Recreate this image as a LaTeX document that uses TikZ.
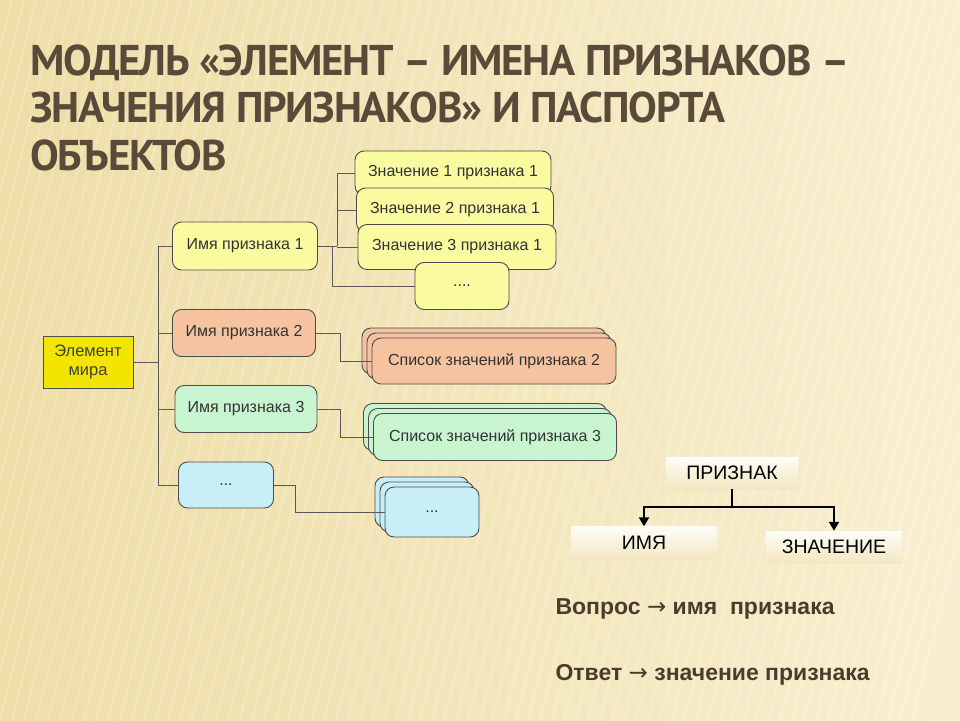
\documentclass[tikz,border=0pt]{standalone}
\usepackage{fontspec}
\setmainfont{Liberation Sans}
\newfontfamily\ttl{PT Sans}
\newfontfamily\djv{DejaVu Sans}
\usetikzlibrary{arrows.meta}
\definecolor{bgA}{HTML}{EEDDA6}
\definecolor{bgB}{HTML}{F7EFCF}
\definecolor{ttlc}{HTML}{5A4A3A}
\definecolor{yel}{HTML}{FAFAA0}
\definecolor{sal}{HTML}{F5C3A0}
\definecolor{grn}{HTML}{C8F5D0}
\definecolor{cyn}{HTML}{C8EEF8}
\definecolor{elem}{HTML}{F2E600}
\definecolor{txt}{HTML}{4A3B2B}
\tikzset{
 rbox/.style={draw=black!70,line width=0.9pt,rounded corners=9pt,inner sep=0pt,font=\fontsize{16}{18}\selectfont,text=black!80},
 ln/.style={draw=black!65,line width=1pt},
 pbox/.style={inner sep=0pt,font=\fontsize{19.5}{22}\selectfont,top color=white!92!bgA,bottom color=bgA!70!white},
 ar/.style={line width=2.4pt,-{Triangle[length=9pt,width=10pt]}},
 qa/.style={anchor=base west,font=\fontsize{23}{26}\selectfont\bfseries,text=txt},
 ttlf/.style={anchor=base west,text=ttlc,font=\ttl\bfseries\fontsize{43}{50}\selectfont,inner sep=0pt},
}
\begin{document}
\begin{tikzpicture}[x=1pt,y=-1pt]
\shade[left color=bgA,right color=bgB] (0,0) rectangle (960,720);
\useasboundingbox (0,0) rectangle (960,720);
\foreach \i in {0,12,...,1100}{\draw[white,opacity=0.18,line width=3pt] (\i,0) -- (\i-180,720);}
% title
\node[ttlf] (t1) at (30,75) {\addfontfeature{LetterSpace=-3}МОДЕЛЬ «ЭЛЕМЕНТ – ИМЕНА ПРИЗНАКОВ –};
\node[ttlf] (t2) at (30,122) {\addfontfeature{LetterSpace=-3}ЗНАЧЕНИЯ ПРИЗНАКОВ» И ПАСПОРТА};
\node[ttlf] (t3) at (30,170) {\addfontfeature{LetterSpace=-3}ОБЪЕКТОВ};
% element
\node[draw=black!70,fill=elem,minimum width=90pt,minimum height=52pt,inner sep=0pt,align=center,font=\fontsize{16.5}{19}\selectfont,text=black!75] (el) at (88,362) {Элемент\\мира};
\node[rbox,fill=yel,minimum width=145pt,minimum height=48pt] (n1) at (245,246) {Имя признака 1};
\node[rbox,fill=sal,minimum width=143pt,minimum height=47pt] (n2) at (244,333) {Имя признака 2};
\node[rbox,fill=grn,minimum width=142pt,minimum height=47pt] (n3) at (246,409) {Имя признака 3};
\node[rbox,fill=cyn,minimum width=95pt,minimum height=46pt] (n4) at (226,485) {...};
\node[rbox,fill=yel,minimum width=196pt,minimum height=44pt] (v1) at (453,173) {Значение 1 признака 1};
\node[rbox,fill=yel,minimum width=197pt,minimum height=44pt] (v2) at (455,210) {Значение 2 признака 1};
\node[rbox,fill=yel,minimum width=198pt,minimum height=45pt] (v3) at (457,247) {Значение 3 признака 1};
\node[rbox,fill=yel,minimum width=94pt,minimum height=47pt] (v4) at (462,286) {....};
\foreach \d in {10,5}{\node[rbox,fill=sal,minimum width=244pt,minimum height=46pt] at (494-\d,361-\d) {};}
\node[rbox,fill=sal,minimum width=244pt,minimum height=46pt] (l2) at (494,361) {Список значений признака 2};
\foreach \d in {10,5}{\node[rbox,fill=grn,minimum width=243pt,minimum height=47pt] at (495-\d,437-\d) {};}
\node[rbox,fill=grn,minimum width=243pt,minimum height=47pt] (l3) at (495,437) {Список значений признака 3};
\foreach \d in {10,5}{\node[rbox,fill=cyn,minimum width=94pt,minimum height=50pt] at (432-\d,512-\d) {};}
\node[rbox,fill=cyn,minimum width=94pt,minimum height=50pt] (l4) at (432,512) {...};
% connectors
\draw[ln] (el.east) -- (158,362);
\draw[ln] (158,246) -- (158,485);
\foreach \n in {n1,n2,n3,n4}{\draw[ln] (158,0 |- \n.west) -- (\n.west);}
\draw[ln] (n1.east) -- (337,246);
\draw[ln] (337,173) -- (337,246);
\foreach \n in {v1,v2,v3}{\draw[ln] (337,0 |- \n.west) -- (\n.west);}
\draw[ln] (332,246) |- (v4.west);
\draw[ln] (n2.east) -- (340,333) |- (l2.west);
\draw[ln] (n3.east) -- (340,409) |- (l3.west);
\draw[ln] (n4.east) -- (295,485) |- (l4.west);
% right part
\node[pbox,minimum width=132pt,minimum height=32pt] (p) at (732,473) {ПРИЗНАК};
\node[pbox,minimum width=146pt,minimum height=33pt] (im) at (644,543) {ИМЯ};
\node[pbox,minimum width=136pt,minimum height=32pt] (zn) at (834,547) {ЗНАЧЕНИЕ};
\draw[line width=2.4pt] (p.south) -- (732,507);
\draw[ar] (732,507) -| (im.north);
\draw[ar] (732,507) -| (zn.north);
\node[qa] (q) at (552,614) {Вопрос {\djv\mdseries →} имя \;признака};
\node[qa] (a) at (552,680) {Ответ {\djv\mdseries →} значение признака};
\end{tikzpicture}
\end{document}
